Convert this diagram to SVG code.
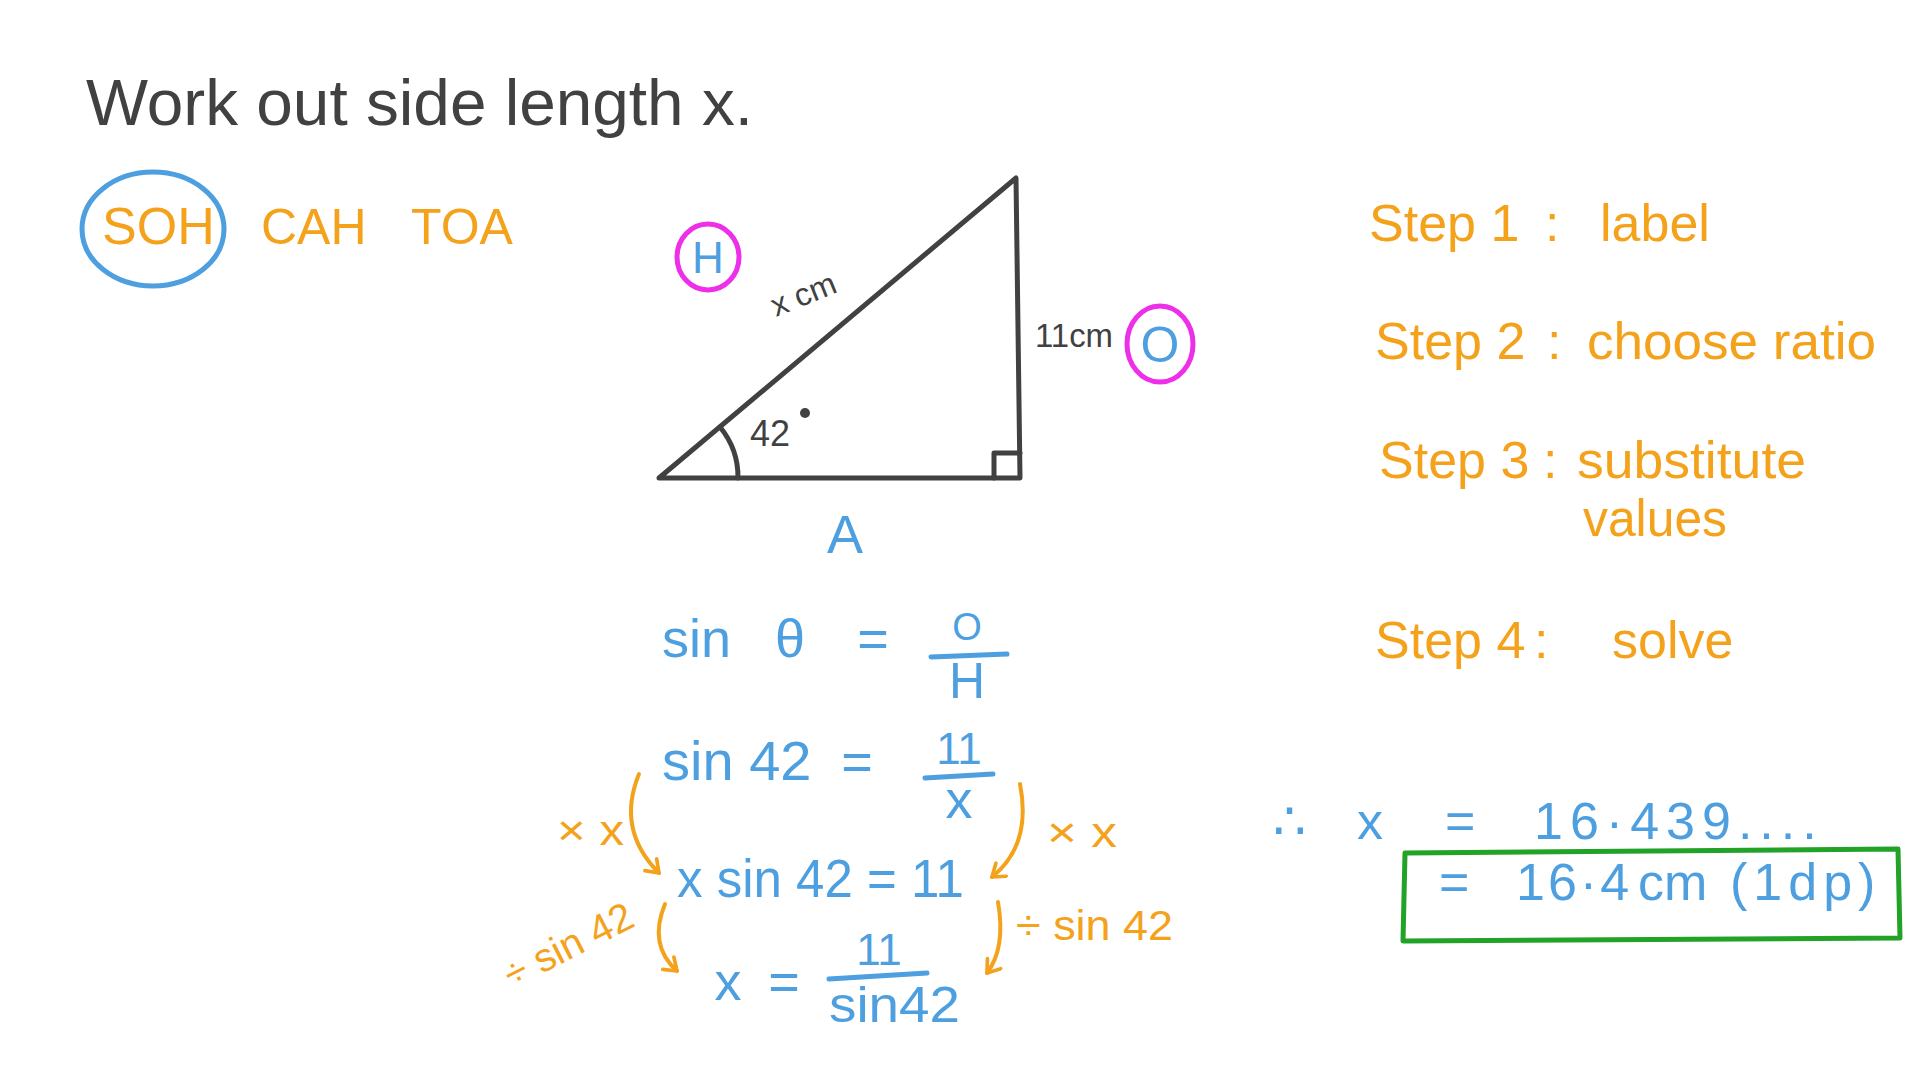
<svg xmlns="http://www.w3.org/2000/svg" width="1920" height="1080" viewBox="0 0 1920 1080">
<defs>
<style>
text{font-family:"Liberation Sans","DejaVu Sans",sans-serif;}
.dk{fill:#414141;}
.bl{fill:#4d9fdf;}
.or{fill:#f4a21c;}
.ln{fill:none;stroke-linecap:round;stroke-linejoin:round;}
.tri{stroke:#414141;stroke-width:5;}
.bls{stroke:#4d9fdf;stroke-width:5;}
.mag{stroke:#ee2ee8;stroke-width:5;}
.ors{stroke:#f4a21c;stroke-width:4;}
.grn{stroke:#22a227;stroke-width:5;}
</style>
<marker id="ah" viewBox="0 0 12 12" refX="9" refY="6" markerWidth="5" markerHeight="5" orient="auto" markerUnits="strokeWidth">
<path d="M2 1 L9 6 L2 11" fill="none" stroke="#f4a21c" stroke-width="2.2" stroke-linecap="round" stroke-linejoin="round"/>
</marker>
</defs>
<rect width="1920" height="1080" fill="#ffffff"/>

<g id="title">
<text class="dk" x="86" y="125" font-size="64" textLength="667" lengthAdjust="spacingAndGlyphs">Work out side length x.</text>
</g>

<g id="sohcahtoa">
<ellipse class="ln bls" cx="153" cy="229" rx="71" ry="57"/>
<text class="or" x="102" y="244" font-size="52">SOH</text>
<text class="or" x="261" y="244" font-size="50">CAH</text>
<text class="or" x="411" y="244" font-size="50">TOA</text>
</g>

<g id="triangle">
<path class="ln tri" d="M659 478 L1016 178 L1020 478 Z"/>
<path class="ln tri" d="M720 427 A79 79 0 0 1 738 478"/>
<path class="ln tri" d="M994 478 V453 H1020"/>
<text class="dk" x="750" y="446" font-size="36">42</text>
<circle cx="805" cy="413" r="5" fill="#414141"/>
<text class="dk" x="776" y="317" font-size="32" transform="rotate(-22 776 317)">x cm</text>
<text class="dk" x="1035" y="347" font-size="34" textLength="78" lengthAdjust="spacingAndGlyphs">11cm</text>
<text class="bl" x="845" y="553" font-size="54" text-anchor="middle">A</text>
</g>

<g id="label-h">
<ellipse class="ln mag" cx="708" cy="257" rx="31" ry="33"/>
<text class="bl" x="708" y="273" font-size="44" text-anchor="middle">H</text>
</g>

<g id="label-o">
<ellipse class="ln mag" cx="1160" cy="344" rx="33" ry="38"/>
<text class="bl" x="1160" y="362" font-size="50" text-anchor="middle">O</text>
</g>

<g id="equations">
<text class="bl" font-size="54" y="657"><tspan x="662">sin</tspan><tspan x="775">θ</tspan></text>
<text class="bl" x="873" y="657" font-size="54" text-anchor="middle">=</text>
<text class="bl" x="967" y="640" font-size="38" text-anchor="middle">O</text>
<path class="ln bls" d="M931 657 L1007 654"/>
<text class="bl" x="967" y="698" font-size="50" text-anchor="middle">H</text>

<text class="bl" x="662" y="780" font-size="56">sin 42</text>
<text class="bl" x="857" y="780" font-size="54" text-anchor="middle">=</text>
<text class="bl" x="959" y="764" font-size="44" text-anchor="middle">11</text>
<path class="ln bls" d="M925 778 L993 774"/>
<text class="bl" x="959" y="818" font-size="54" text-anchor="middle">x</text>

<text class="bl" x="677" y="897" font-size="54" textLength="287" lengthAdjust="spacingAndGlyphs">x sin 42 = 11</text>

<text class="bl" x="728" y="1000" font-size="54" text-anchor="middle">x</text>
<text class="bl" x="784" y="1000" font-size="54" text-anchor="middle">=</text>
<text class="bl" x="879" y="965" font-size="44" text-anchor="middle">11</text>
<path class="ln bls" d="M829 979 L927 973"/>
<text class="bl" x="829" y="1022" font-size="50" textLength="131" lengthAdjust="spacingAndGlyphs">sin42</text>
</g>

<g id="connectors">
<path class="ln ors" d="M639 774 Q616 830 659 873" marker-end="url(#ah)"/>
<path class="ln ors" d="M1020 784 Q1032 845 992 877" marker-end="url(#ah)"/>
<path class="ln ors" d="M665 904 Q648 945 677 971" marker-end="url(#ah)"/>
<path class="ln ors" d="M998 902 Q1006 948 987 973" marker-end="url(#ah)"/>
</g>

<g id="op-labels">
<text class="or" x="557" y="845" font-size="42" textLength="67" lengthAdjust="spacingAndGlyphs">× x</text>
<text class="or" x="1047" y="847" font-size="42" textLength="70" lengthAdjust="spacingAndGlyphs">× x</text>
<text class="or" x="512" y="989" font-size="40" textLength="140" lengthAdjust="spacingAndGlyphs" transform="rotate(-27 512 989)">÷ sin 42</text>
<text class="or" x="1016" y="940" font-size="42" textLength="157" lengthAdjust="spacingAndGlyphs">÷ sin 42</text>
</g>

<g id="steps">
<text class="or" font-size="52" y="241"><tspan x="1369">Step 1</tspan><tspan x="1545">:</tspan><tspan x="1600">label</tspan></text>
<text class="or" font-size="52" y="359"><tspan x="1375">Step 2</tspan><tspan x="1547">:</tspan><tspan x="1587" textLength="289" lengthAdjust="spacingAndGlyphs">choose ratio</tspan></text>
<text class="or" font-size="52" y="478"><tspan x="1379">Step 3</tspan><tspan x="1543">:</tspan><tspan x="1577" textLength="229" lengthAdjust="spacingAndGlyphs">substitute</tspan></text>
<text class="or" font-size="52" x="1583" y="536" textLength="144" lengthAdjust="spacingAndGlyphs">values</text>
<text class="or" font-size="52" y="658"><tspan x="1375">Step 4</tspan><tspan x="1534">:</tspan><tspan x="1612">solve</tspan></text>
</g>

<g id="result">
<text class="bl" font-size="52" y="839"><tspan x="1273">∴</tspan><tspan x="1357">x</tspan><tspan x="1445">=</tspan><tspan x="1534" letter-spacing="7">16·439....</tspan></text>
<path class="ln grn" d="M1405 853 L1898 849 L1900 938 L1403 941 Z"/>
<text class="bl" font-size="52" y="900"><tspan x="1439">=</tspan><tspan x="1516" letter-spacing="3">16·4</tspan><tspan x="1638">cm</tspan><tspan x="1730" letter-spacing="6">(1dp)</tspan></text>
</g>
</svg>
